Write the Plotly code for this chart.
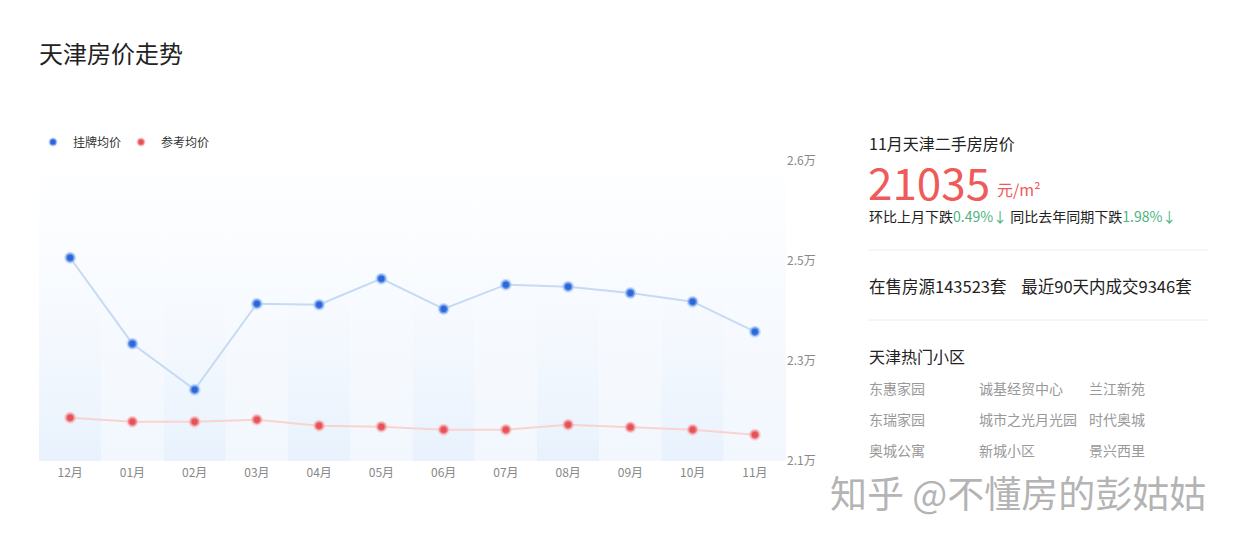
import plotly.graph_objects as go

months = ["12月", "01月", "02月", "03月", "04月", "05月", "06月", "07月", "08月", "09月", "10月", "11月"]
listing_price = [24388, 22955, 22189, 23622, 23606, 24039, 23533, 23939, 23906, 23800, 23656, 23156]
reference_price = [21722, 21656, 21656, 21689, 21589, 21572, 21522, 21522, 21606, 21561, 21522, 21439]
y_tick_vals = [21000, 22667, 24333, 26000]
y_tick_text = ["2.1万", "2.3万", "2.5万", "2.6万"]
hot_communities = [["东惠家园", "诚基经贸中心", "兰江新苑"],
                   ["东瑞家园", "城市之光月光园", "时代奥城"],
                   ["奥城公寓", "新城小区", "景兴西里"]]

FONT = "Noto Sans CJK SC"
y_min, y_max = 21000, 26000
band_top = 25750

# page offset from default body margin
OFF = 8
FIG_W, FIG_H = 1236 - 2 * OFF, 541 - 2 * OFF
# plot area in page pixels
pl, pr, pt, pb = 39, 786, 161, 461

def px(x): return (x - pl) / (pr - pl)
def py(y): return (pb - y) / (pb - pt)

fig = go.Figure()

# background gradient bands
for i, m in enumerate(months):
    strong = (i % 2 == 0)
    bottom_col = "rgba(228,239,252,0.85)" if strong else "rgba(236,244,253,0.7)"
    fig.add_trace(go.Scatter(
        x=[i - 0.5, i + 0.5, i + 0.5, i - 0.5, i - 0.5],
        y=[y_min, y_min, band_top, band_top, y_min],
        mode="lines", line=dict(width=0), fill="toself",
        fillgradient=dict(type="vertical",
                          colorscale=[[0, bottom_col], [0.6, "rgba(240,246,254,0.5)"],
                                      [1, "rgba(250,252,255,0.3)"]]),
        hoverinfo="skip", showlegend=False))

x_idx = list(range(len(months)))

blue_marker = dict(size=9, color="#2d66d8", line=dict(width=3, color="rgba(160,196,245,0.55)"))
red_marker = dict(size=9, color="#e5525a", line=dict(width=3, color="rgba(248,180,180,0.55)"))

fig.add_trace(go.Scatter(
    x=x_idx, y=listing_price, mode="lines+markers", name="挂牌均价",
    line=dict(color="#c6daf3", width=2), marker=blue_marker, showlegend=False))
fig.add_trace(go.Scatter(
    x=x_idx, y=reference_price, mode="lines+markers", name="参考均价",
    line=dict(color="#f8d3cf", width=2), marker=red_marker, showlegend=False))
# legend entries (markers only)
fig.add_trace(go.Scatter(x=[None], y=[None], mode="markers", name="挂牌均价",
                         marker=dict(size=7, color="#2d66d8", line=dict(width=2, color="rgba(160,196,245,0.55)"))))
fig.add_trace(go.Scatter(x=[None], y=[None], mode="markers", name="参考均价",
                         marker=dict(size=7, color="#e5525a", line=dict(width=2, color="rgba(248,180,180,0.55)"))))

fig.update_layout(
    width=FIG_W, height=FIG_H,
    margin=dict(l=pl - OFF, r=FIG_W - (pr - OFF), t=pt - OFF, b=FIG_H - (pb - OFF)),
    paper_bgcolor="white", plot_bgcolor="white",
    font=dict(family=FONT, color="#333"),
    showlegend=True,
    legend=dict(orientation="h", x=px(33), y=py(142), xanchor="left", yanchor="middle",
                font=dict(size=12, color="#333", family=FONT), itemwidth=30,
                bgcolor="rgba(0,0,0,0)", traceorder="normal",
                entrywidth=43, entrywidthmode="pixels"),
    xaxis=dict(range=[-0.5, 11.5], tickvals=x_idx, ticktext=months,
               showgrid=False, zeroline=False, showline=False, ticks="",
               ticklabelstandoff=3,
               tickfont=dict(size=12, color="#888", family=FONT)),
    yaxis=dict(range=[y_min, y_max], side="right", tickvals=y_tick_vals, ticktext=y_tick_text,
               showgrid=False, zeroline=False, showline=False, ticks="",
               tickfont=dict(size=12, color="#888", family=FONT)),
)

annotations = []
def txt(x, y, text, size, color, anchor="left", yanchor="middle"):
    annotations.append(dict(x=x, y=y, xref="paper", yref="paper", text=text, showarrow=False,
                            xanchor=anchor, yanchor=yanchor,
                            font=dict(size=size, color=color, family=FONT)))

# title
txt(px(37), py(53), "天津房价走势", 24, "#222")
# right panel
txt(px(867), py(143), "11月天津二手房房价", 16, "#222")
txt(px(866), py(181), "21035", 44, "#ef5a5a")
txt(px(995), py(189), "元/m²", 16, "#ef5a5a")
txt(px(867), py(216),
    "环比上月下跌<span style='color:#4cb57f'>0.49%↓</span> 同比去年同期下跌<span style='color:#4cb57f'>1.98%↓</span>",
    14, "#222")
txt(px(867), py(286), "在售房源143523套    最近90天内成交9346套", 16.5, "#222")
txt(px(867), py(356), "天津热门小区", 16, "#222")
col_x = [867, 977, 1087]
row_y = [388, 419, 450]
for r, row in enumerate(hot_communities):
    for c, name in enumerate(row):
        txt(px(col_x[c]), py(row_y[r]), name, 14, "#999")
# watermark
txt(px(1018), py(492), "知乎 @不懂房的彭姑姑", 37, "rgba(160,160,160,0.8)", anchor="center")

fig.update_layout(annotations=annotations)

shapes = []
for yy in [250, 320]:
    shapes.append(dict(type="line", xref="paper", yref="paper",
                       x0=px(868), x1=px(1208), y0=py(yy), y1=py(yy),
                       line=dict(color="#eeeeee", width=1)))
fig.update_layout(shapes=shapes)

fig.write_html("out.html")
